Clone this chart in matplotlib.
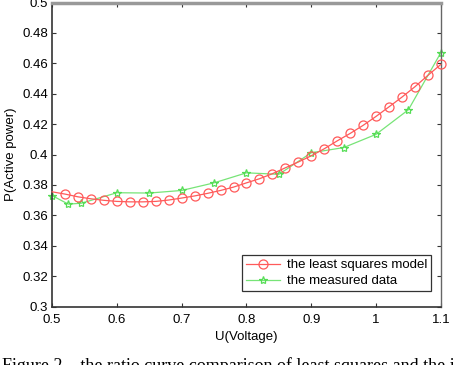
import numpy as np
import matplotlib
matplotlib.use("Agg")
import matplotlib.pyplot as plt

plt.rcParams['font.family'] = ['Liberation Sans', 'DejaVu Sans']

# least squares model (red circles)
u_model = [0.50, 0.52, 0.54, 0.56, 0.58, 0.60, 0.62, 0.64, 0.66, 0.68, 0.70,
           0.72, 0.74, 0.76, 0.78, 0.80, 0.82, 0.84, 0.86, 0.88, 0.90,
           0.92, 0.94, 0.96, 0.98, 1.00, 1.02, 1.04, 1.06, 1.08, 1.10]
p_model = [0.3755, 0.3740, 0.3722, 0.3709, 0.3699, 0.3692, 0.3689, 0.3689, 0.3692, 0.3701, 0.3714,
           0.3728, 0.3745, 0.3764, 0.3786, 0.3814, 0.3841, 0.3874, 0.3913, 0.3951, 0.3992,
           0.4038, 0.4090, 0.4139, 0.4192, 0.4251, 0.4314, 0.4378, 0.4446, 0.4521, 0.4593]

# measured data (green stars)
u_meas = [0.50, 0.525, 0.545, 0.60, 0.65, 0.70, 0.75, 0.80, 0.85, 0.90, 0.95, 1.00, 1.05, 1.10]
p_meas = [0.3730, 0.3674, 0.3680, 0.3749, 0.3747, 0.3764, 0.3814, 0.3880, 0.3870,
          0.4012, 0.4046, 0.4133, 0.4295, 0.4670]

x_ticks = [0.5, 0.6, 0.7, 0.8, 0.9, 1.0, 1.1]
x_labels = ['0.5', '0.6', '0.7', '0.8', '0.9', '1', '1.1']
y_ticks = [0.3, 0.32, 0.34, 0.36, 0.38, 0.4, 0.42, 0.44, 0.46, 0.48, 0.5]
y_labels = ['0.3', '0.32', '0.34', '0.36', '0.38', '0.4', '0.42', '0.44', '0.46', '0.48', '0.5']

fig = plt.figure(figsize=(4.74, 3.65), dpi=100)
ax = fig.add_axes([0.110, 0.160, 0.820, 0.833])

ax.plot(u_model, p_model, color='#ff5a5a', lw=0.9, marker='o', ms=6.5,
        mfc='none', mec='#ff5a5a', mew=0.9, markevery=slice(1, None),
        label='the least squares model', clip_on=False, zorder=3)
ax.plot(u_meas, p_meas, color='#77e477', lw=0.9, marker='*', ms=6,
        mfc='none', mec='#55dd55', mew=0.9,
        label='the measured data', clip_on=False, zorder=2)

ax.set_xlim(0.5, 1.1)
ax.set_ylim(0.3, 0.5)
ax.set_xticks(x_ticks)
ax.set_xticklabels(x_labels)
ax.set_yticks(y_ticks)
ax.set_yticklabels(y_labels)
ax.tick_params(direction='in', length=3, width=0.8, color='#333333',
               labelsize=9.5, top=True, right=True, pad=3)
ax.tick_params(axis='x', pad=5)

for side in ['left', 'bottom']:
    ax.spines[side].set_color('#333333')
    ax.spines[side].set_linewidth(1.2)
ax.spines['right'].set_color('#666666')
ax.spines['right'].set_linewidth(1.0)
ax.spines['top'].set_color('#999999')
ax.spines['top'].set_linewidth(2.5)

ax.set_xlabel('U(Voltage)', fontsize=9.5, labelpad=4)
ax.set_ylabel('P(Active power)', fontsize=9.5, labelpad=4)

leg = ax.legend(loc='lower right', bbox_to_anchor=(0.975, 0.05), fontsize=9.5,
                fancybox=False, framealpha=1, edgecolor='#333333',
                borderpad=0.3, labelspacing=0.3, handlelength=2.6,
                handletextpad=0.5, borderaxespad=0)
leg.get_frame().set_linewidth(0.9)

fig.text(0.005, -0.016, 'Figure 2.   the ratio curve comparison of least squares and the i',
         family=['Liberation Serif', 'DejaVu Serif'], fontsize=13, va='baseline')

fig.savefig('out.png', dpi=100)
